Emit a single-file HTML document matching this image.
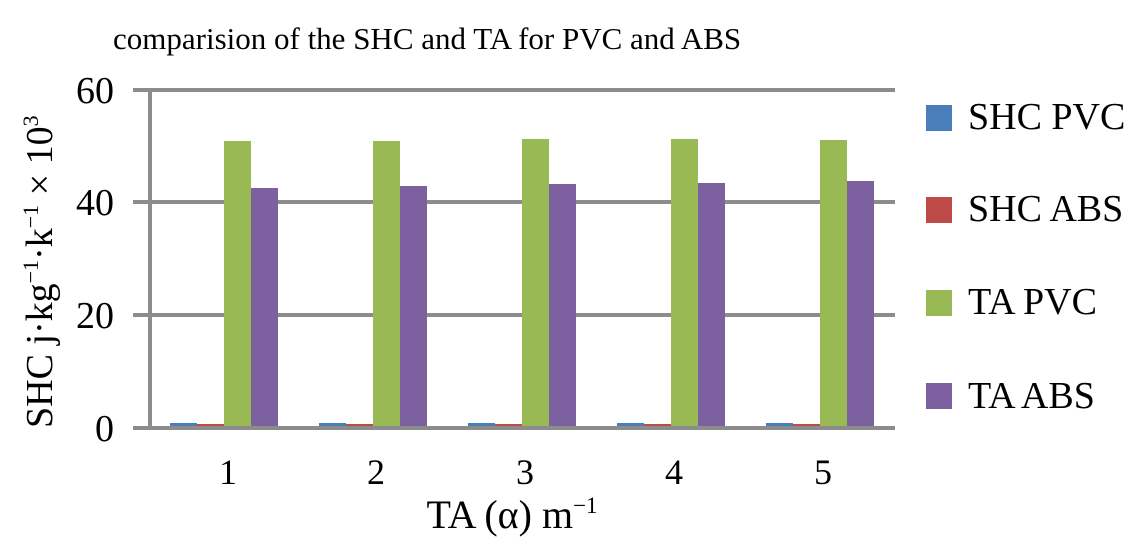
<!DOCTYPE html>
<html><head><meta charset="utf-8"><style>body{margin:0;background:#fff}</style></head><body>
<svg width="1131" height="541" xmlns="http://www.w3.org/2000/svg" font-family="Liberation Serif, serif">
<rect width="1131" height="541" fill="#fff"/>
<text x="113" y="49" font-size="31">comparision of the SHC and TA for PVC and ABS</text>
<g stroke="#8c8c8c" stroke-width="4">
<line x1="133" y1="90" x2="895" y2="90"/>
<line x1="133" y1="202" x2="895" y2="202"/>
<line x1="133" y1="315" x2="895" y2="315"/>
<line x1="150" y1="88" x2="150" y2="430"/>
</g>
<g font-size="38" text-anchor="end">
<text x="114" y="103">60</text><text x="114" y="215">40</text><text x="114" y="328">20</text><text x="114" y="441">0</text>
</g>
<g>
<rect x="170" y="423" width="27" height="5" fill="#4a7ebb"/><rect x="197" y="424" width="27" height="4" fill="#be4b48"/><rect x="224" y="141" width="27" height="287" fill="#98b954"/><rect x="251" y="188" width="27" height="240" fill="#7d60a0"/>
<rect x="319" y="423" width="27" height="5" fill="#4a7ebb"/><rect x="346" y="424" width="27" height="4" fill="#be4b48"/><rect x="373" y="141" width="27" height="287" fill="#98b954"/><rect x="400" y="186" width="27" height="242" fill="#7d60a0"/>
<rect x="468" y="423" width="27" height="5" fill="#4a7ebb"/><rect x="495" y="424" width="27" height="4" fill="#be4b48"/><rect x="522" y="139" width="27" height="289" fill="#98b954"/><rect x="549" y="184" width="27" height="244" fill="#7d60a0"/>
<rect x="617" y="423" width="27" height="5" fill="#4a7ebb"/><rect x="644" y="424" width="27" height="4" fill="#be4b48"/><rect x="671" y="139" width="27" height="289" fill="#98b954"/><rect x="698" y="183" width="27" height="245" fill="#7d60a0"/>
<rect x="766" y="423" width="27" height="5" fill="#4a7ebb"/><rect x="793" y="424" width="27" height="4" fill="#be4b48"/><rect x="820" y="140" width="27" height="288" fill="#98b954"/><rect x="847" y="181" width="27" height="247" fill="#7d60a0"/>
</g>
<line x1="133" y1="428" x2="895" y2="428" stroke="#8c8c8c" stroke-width="4"/>
<g font-size="36" text-anchor="middle">
<text x="228" y="484">1</text><text x="376" y="484">2</text><text x="525" y="484">3</text><text x="674" y="484">4</text><text x="823" y="484">5</text>
</g>
<text x="512" y="528" font-size="40" text-anchor="middle">TA (α) m<tspan font-size="23" dy="-15">−1</tspan></text>
<text transform="translate(52,428) rotate(-90)" font-size="38">SHC j·kg<tspan font-size="22" dy="-14">−1</tspan><tspan dy="14">·k</tspan><tspan font-size="22" dy="-14">−1</tspan><tspan dy="14"> × 10</tspan><tspan font-size="22" dy="-14">3</tspan></text>
<g font-size="38">
<rect x="926" y="105" width="26" height="26" fill="#4a7ebb"/><text x="968" y="129">SHC PVC</text>
<rect x="926" y="197" width="26" height="26" fill="#be4b48"/><text x="968" y="221">SHC ABS</text>
<rect x="926" y="290" width="26" height="26" fill="#98b954"/><text x="968" y="314">TA PVC</text>
<rect x="926" y="383" width="26" height="26" fill="#7d60a0"/><text x="968" y="408">TA ABS</text>
</g>
</svg>
</body></html>
